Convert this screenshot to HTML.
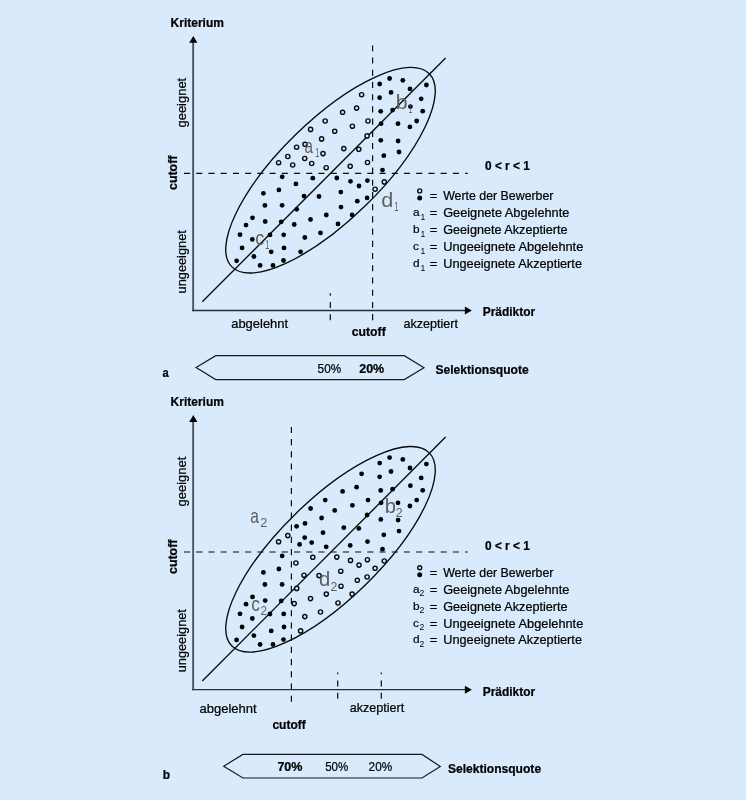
<!DOCTYPE html>
<html lang="de"><head><meta charset="utf-8"><title>Selektionsquote</title>
<style>
html,body{margin:0;padding:0;background:#d9eafd;}
body{width:746px;height:800px;overflow:hidden;}
svg{display:block;}
text{font-family:"Liberation Sans",sans-serif;fill:#000;stroke:#000;stroke-width:0.22px;}
text.r{font-size:12.4px;}
text.b{font-size:12px;font-weight:700;}
text.big{font-size:19.8px;fill:#5f5d5d;stroke:none;}
text.bsub{font-size:12.3px;fill:#5f5d5d;stroke:none;}
text.lg{font-size:11.8px;stroke-width:0.2px;}
text.lgs{font-size:8.6px;stroke:none;}
.ax{fill:none;stroke:#2c2e30;stroke-width:1.3;}
.ay{fill:none;stroke:#4d545c;stroke-width:1.9;}
.ah{fill:#000;stroke:none;}
.ln{fill:none;stroke:#0a0a0a;stroke-width:1.35;}
.ds{fill:none;stroke:#0a0a0a;stroke-width:1.2;stroke-dasharray:6.1 6.12;}
.ds2{fill:none;stroke:#0a0a0a;stroke-width:1.15;stroke-dasharray:6 4;}
.o{fill:#d9eafd;stroke:#0a0a0a;stroke-width:1.4;}
.f{fill:#000;}
.bx{fill:#d9eafd;stroke:#1a1a1a;stroke-width:1.2;stroke-linejoin:miter;}
</style></head>
<body>
<svg width="746" height="800" viewBox="0 0 746 800">
<rect width="746" height="800" fill="#d9eafd"/>
<g id="plot-a">
<path class="ay" d="M193.15 41.5V311.15"/>
<path class="ax" d="M192.25 310.5H466.5"/>
<path class="ah" d="M193.3 36.0l4.1 6.8h-8.2z"/>
<path class="ah" d="M471.9 310.6l-7 -4v8z"/>
<ellipse class="ln" cx="330.5" cy="170.2" rx="138.1" ry="49.8" transform="rotate(-44.3 330.5 170.2)"/>
<path class="ln" d="M202.3 301.8L445.6 58.0"/>
<path class="ds" d="M184.0 173.4H467.8"/>
<path class="ds" d="M372.6 320.2V45.5"/>
<path class="ds" d="M330.3 320.3V293.2"/>
<circle class="o" cx="361.6" cy="94.7" r="2.1"/>
<circle class="o" cx="356.6" cy="108.1" r="2.1"/>
<circle class="o" cx="342.6" cy="112.3" r="2.1"/>
<circle class="o" cx="325.2" cy="121.0" r="2.1"/>
<circle class="o" cx="368.0" cy="121.0" r="2.1"/>
<circle class="o" cx="352.4" cy="126.2" r="2.1"/>
<circle class="o" cx="310.6" cy="129.4" r="2.1"/>
<circle class="o" cx="334.7" cy="131.3" r="2.1"/>
<circle class="o" cx="367.1" cy="135.9" r="2.1"/>
<circle class="o" cx="321.6" cy="138.9" r="2.1"/>
<circle class="o" cx="305.0" cy="144.3" r="2.1"/>
<circle class="o" cx="296.6" cy="147.2" r="2.1"/>
<circle class="o" cx="343.8" cy="148.6" r="2.1"/>
<circle class="o" cx="358.8" cy="149.3" r="2.1"/>
<circle class="o" cx="323.0" cy="153.6" r="2.1"/>
<circle class="o" cx="287.8" cy="156.5" r="2.1"/>
<circle class="o" cx="304.7" cy="158.5" r="2.1"/>
<circle class="o" cx="278.6" cy="162.7" r="2.1"/>
<circle class="o" cx="292.7" cy="165.0" r="2.1"/>
<circle class="o" cx="311.7" cy="163.5" r="2.1"/>
<circle class="o" cx="367.5" cy="162.5" r="2.1"/>
<circle class="o" cx="350.2" cy="166.3" r="2.1"/>
<circle class="o" cx="326.2" cy="167.7" r="2.1"/>
<circle class="f" cx="379.7" cy="84.0" r="2.4"/>
<circle class="f" cx="389.6" cy="78.5" r="2.4"/>
<circle class="f" cx="402.8" cy="80.3" r="2.4"/>
<circle class="f" cx="426.4" cy="85.0" r="2.4"/>
<circle class="f" cx="410.0" cy="88.9" r="2.4"/>
<circle class="f" cx="391.0" cy="92.4" r="2.4"/>
<circle class="f" cx="379.6" cy="97.7" r="2.4"/>
<circle class="f" cx="421.2" cy="98.8" r="2.4"/>
<circle class="f" cx="410.4" cy="106.6" r="2.4"/>
<circle class="f" cx="380.7" cy="111.3" r="2.4"/>
<circle class="f" cx="392.6" cy="110.1" r="2.4"/>
<circle class="f" cx="422.7" cy="111.2" r="2.4"/>
<circle class="f" cx="416.7" cy="121.0" r="2.4"/>
<circle class="f" cx="381.1" cy="123.7" r="2.4"/>
<circle class="f" cx="398.0" cy="123.7" r="2.4"/>
<circle class="f" cx="409.9" cy="126.9" r="2.4"/>
<circle class="f" cx="380.8" cy="140.3" r="2.4"/>
<circle class="f" cx="398.1" cy="141.0" r="2.4"/>
<circle class="f" cx="399.0" cy="152.0" r="2.4"/>
<circle class="f" cx="383.8" cy="155.7" r="2.4"/>
<circle class="f" cx="382.5" cy="170.1" r="2.4"/>
<circle class="f" cx="282.2" cy="176.8" r="2.4"/>
<circle class="f" cx="312.8" cy="178.2" r="2.4"/>
<circle class="f" cx="336.8" cy="178.0" r="2.4"/>
<circle class="f" cx="350.5" cy="181.3" r="2.4"/>
<circle class="f" cx="367.4" cy="180.6" r="2.4"/>
<circle class="f" cx="295.9" cy="183.9" r="2.4"/>
<circle class="f" cx="359.0" cy="186.0" r="2.4"/>
<circle class="f" cx="278.9" cy="189.9" r="2.4"/>
<circle class="f" cx="340.8" cy="192.1" r="2.4"/>
<circle class="f" cx="263.4" cy="193.3" r="2.4"/>
<circle class="f" cx="304.0" cy="196.1" r="2.4"/>
<circle class="f" cx="319.0" cy="196.5" r="2.4"/>
<circle class="f" cx="367.1" cy="197.9" r="2.4"/>
<circle class="f" cx="357.3" cy="201.2" r="2.4"/>
<circle class="f" cx="264.9" cy="205.4" r="2.4"/>
<circle class="f" cx="282.1" cy="205.3" r="2.4"/>
<circle class="f" cx="341.0" cy="207.1" r="2.4"/>
<circle class="f" cx="296.7" cy="209.3" r="2.4"/>
<circle class="f" cx="326.3" cy="215.0" r="2.4"/>
<circle class="f" cx="352.1" cy="215.0" r="2.4"/>
<circle class="f" cx="252.5" cy="217.8" r="2.4"/>
<circle class="f" cx="310.5" cy="219.5" r="2.4"/>
<circle class="f" cx="265.2" cy="221.5" r="2.4"/>
<circle class="f" cx="281.2" cy="221.8" r="2.4"/>
<circle class="f" cx="338.0" cy="223.9" r="2.4"/>
<circle class="f" cx="246.0" cy="225.1" r="2.4"/>
<circle class="f" cx="294.2" cy="224.5" r="2.4"/>
<circle class="f" cx="320.5" cy="232.9" r="2.4"/>
<circle class="f" cx="240.0" cy="234.7" r="2.4"/>
<circle class="f" cx="270.0" cy="234.9" r="2.4"/>
<circle class="f" cx="283.7" cy="234.8" r="2.4"/>
<circle class="f" cx="304.8" cy="237.5" r="2.4"/>
<circle class="f" cx="252.3" cy="239.4" r="2.4"/>
<circle class="f" cx="242.1" cy="247.9" r="2.4"/>
<circle class="f" cx="284.0" cy="247.9" r="2.4"/>
<circle class="f" cx="271.2" cy="251.8" r="2.4"/>
<circle class="f" cx="300.6" cy="251.8" r="2.4"/>
<circle class="f" cx="253.9" cy="256.5" r="2.4"/>
<circle class="f" cx="236.6" cy="260.8" r="2.4"/>
<circle class="f" cx="283.5" cy="260.5" r="2.4"/>
<circle class="f" cx="260.1" cy="265.4" r="2.4"/>
<circle class="f" cx="273.0" cy="265.4" r="2.4"/>
<circle class="o" cx="384.3" cy="181.9" r="2.1"/>
<circle class="o" cx="375.1" cy="189.2" r="2.1"/>
<text class="big" x="304.55" y="152.6" textLength="8.44" lengthAdjust="spacingAndGlyphs">a</text><text class="bsub" x="315.35" y="156.6" textLength="4.00" lengthAdjust="spacingAndGlyphs">1</text>
<text class="big" x="395.72" y="108.8" textLength="11.87" lengthAdjust="spacingAndGlyphs">b</text><text class="bsub" x="408.82" y="112.7" textLength="3.48" lengthAdjust="spacingAndGlyphs">1</text>
<text class="big" x="255.23" y="244.8" textLength="9.05" lengthAdjust="spacingAndGlyphs">c</text><text class="bsub" x="265.33" y="248.6" textLength="4.13" lengthAdjust="spacingAndGlyphs">1</text>
<text class="big" x="381.29" y="206.9" textLength="12.00" lengthAdjust="spacingAndGlyphs">d</text><text class="bsub" x="394.20" y="210.7" textLength="4.39" lengthAdjust="spacingAndGlyphs">1</text>
<text class="b" x="170.6" y="26.9" textLength="53.3" lengthAdjust="spacingAndGlyphs">Kriterium</text>
<text class="r" transform="translate(185.5 127.5) rotate(-90)" x="0" y="0" textLength="49.7" lengthAdjust="spacingAndGlyphs">geeignet</text>
<text class="b" transform="translate(176.7 190.0) rotate(-90)" x="0" y="0" textLength="34.4" lengthAdjust="spacingAndGlyphs">cutoff</text>
<text class="r" transform="translate(185.5 293.4) rotate(-90)" x="0" y="0" textLength="63.2" lengthAdjust="spacingAndGlyphs">ungeeignet</text>
<text class="r" x="231.2" y="328.3" textLength="56.9" lengthAdjust="spacingAndGlyphs">abgelehnt</text>
<text class="b" x="351.8" y="336.0" textLength="33.9" lengthAdjust="spacingAndGlyphs">cutoff</text>
<text class="r" x="403.4" y="328.1" textLength="54.6" lengthAdjust="spacingAndGlyphs">akzeptiert</text>
<text class="b" x="482.7" y="316.2" textLength="52.5" lengthAdjust="spacingAndGlyphs">Prädiktor</text>
<text class="b" x="485.0" y="169.6" textLength="44.8" lengthAdjust="spacingAndGlyphs">0 &lt; r &lt; 1</text>
<circle class="o" cx="419.7" cy="190.9" r="2.0"/>
<circle class="f" cx="419.7" cy="198.0" r="2.5"/>
<text class="r" x="429.7" y="199.8" textLength="7.6" lengthAdjust="spacingAndGlyphs">=</text>
<text class="r" x="443.2" y="199.8" textLength="110.3" lengthAdjust="spacingAndGlyphs">Werte der Bewerber</text>
<text class="lg" x="413.0" y="216.0">a</text>
<text class="lgs" x="420.4" y="219.6">1</text>
<text class="r" x="429.7" y="217.0" textLength="7.6" lengthAdjust="spacingAndGlyphs">=</text>
<text class="r" x="443.2" y="217.0" textLength="126.1" lengthAdjust="spacingAndGlyphs">Geeignete Abgelehnte</text>
<text class="lg" x="413.0" y="233.1">b</text>
<text class="lgs" x="420.4" y="236.7">1</text>
<text class="r" x="429.7" y="234.1" textLength="7.6" lengthAdjust="spacingAndGlyphs">=</text>
<text class="r" x="443.2" y="234.1" textLength="124.4" lengthAdjust="spacingAndGlyphs">Geeignete Akzeptierte</text>
<text class="lg" x="413.0" y="250.2">c</text>
<text class="lgs" x="420.4" y="253.8">1</text>
<text class="r" x="429.7" y="251.2" textLength="7.6" lengthAdjust="spacingAndGlyphs">=</text>
<text class="r" x="443.2" y="251.2" textLength="140.1" lengthAdjust="spacingAndGlyphs">Ungeeignete Abgelehnte</text>
<text class="lg" x="413.0" y="267.4">d</text>
<text class="lgs" x="420.4" y="271.0">1</text>
<text class="r" x="429.7" y="268.4" textLength="7.6" lengthAdjust="spacingAndGlyphs">=</text>
<text class="r" x="443.2" y="268.4" textLength="138.8" lengthAdjust="spacingAndGlyphs">Ungeeignete Akzeptierte</text>
<path class="bx" d="M196.1 367.6L215.7 355.7H404.3L424 367.7L404.3 379.6H215.7Z"/>
<text class="r" x="317.6" y="372.8" textLength="23.6" lengthAdjust="spacingAndGlyphs">50%</text>
<text class="b" x="359.2" y="372.9" textLength="25.0" lengthAdjust="spacingAndGlyphs">20%</text>
<text class="b" x="435.5" y="373.5" textLength="93.2" lengthAdjust="spacingAndGlyphs">Selektionsquote</text>
<text class="b" x="162.6" y="376.5" textLength="6.2" lengthAdjust="spacingAndGlyphs">a</text>
</g>
<g id="plot-b">
<path class="ay" d="M193.15 420.6V690.25"/>
<path class="ax" d="M192.25 689.6H466.5"/>
<path class="ah" d="M193.3 415.1l4.1 6.8h-8.2z"/>
<path class="ah" d="M471.9 689.7l-7 -4v8z"/>
<ellipse class="ln" cx="330.5" cy="549.3" rx="138.1" ry="49.8" transform="rotate(-44.3 330.5 549.3)"/>
<path class="ln" d="M202.3 680.9L445.6 437.1"/>
<path class="ds" d="M184.0 552.0H467.8"/>
<path class="ds" d="M291.4 701.8V426.9"/>
<path class="ds" d="M337.7 698.8V672.5"/>
<path class="ds" d="M381.3 698.8V672.5"/>
<circle class="f" cx="361.6" cy="473.8" r="2.4"/>
<circle class="f" cx="356.6" cy="487.2" r="2.4"/>
<circle class="f" cx="342.6" cy="491.4" r="2.4"/>
<circle class="f" cx="325.2" cy="500.1" r="2.4"/>
<circle class="f" cx="368.0" cy="500.1" r="2.4"/>
<circle class="f" cx="352.4" cy="505.3" r="2.4"/>
<circle class="f" cx="310.6" cy="508.5" r="2.4"/>
<circle class="f" cx="334.7" cy="510.4" r="2.4"/>
<circle class="f" cx="367.1" cy="515.0" r="2.4"/>
<circle class="f" cx="321.6" cy="518.0" r="2.4"/>
<circle class="f" cx="305.0" cy="523.4" r="2.4"/>
<circle class="f" cx="296.6" cy="526.3" r="2.4"/>
<circle class="f" cx="343.8" cy="527.7" r="2.4"/>
<circle class="f" cx="358.8" cy="528.4" r="2.4"/>
<circle class="f" cx="323.0" cy="532.7" r="2.4"/>
<circle class="o" cx="287.8" cy="535.6" r="2.1"/>
<circle class="f" cx="304.7" cy="537.6" r="2.4"/>
<circle class="o" cx="278.6" cy="541.8" r="2.1"/>
<circle class="f" cx="299.6" cy="544.4" r="2.4"/>
<circle class="f" cx="311.7" cy="542.6" r="2.4"/>
<circle class="f" cx="367.5" cy="541.6" r="2.4"/>
<circle class="f" cx="350.2" cy="545.4" r="2.4"/>
<circle class="f" cx="326.2" cy="546.8" r="2.4"/>
<circle class="f" cx="379.7" cy="463.1" r="2.4"/>
<circle class="f" cx="389.6" cy="457.6" r="2.4"/>
<circle class="f" cx="402.8" cy="459.4" r="2.4"/>
<circle class="f" cx="426.4" cy="464.1" r="2.4"/>
<circle class="f" cx="410.0" cy="468.0" r="2.4"/>
<circle class="f" cx="391.0" cy="471.5" r="2.4"/>
<circle class="f" cx="379.6" cy="476.8" r="2.4"/>
<circle class="f" cx="421.2" cy="477.9" r="2.4"/>
<circle class="f" cx="410.4" cy="485.7" r="2.4"/>
<circle class="f" cx="380.7" cy="490.4" r="2.4"/>
<circle class="f" cx="392.6" cy="489.2" r="2.4"/>
<circle class="f" cx="422.7" cy="490.3" r="2.4"/>
<circle class="f" cx="416.7" cy="500.1" r="2.4"/>
<circle class="f" cx="381.1" cy="502.8" r="2.4"/>
<circle class="f" cx="398.0" cy="502.8" r="2.4"/>
<circle class="f" cx="409.9" cy="506.0" r="2.4"/>
<circle class="f" cx="380.8" cy="519.4" r="2.4"/>
<circle class="f" cx="398.1" cy="520.1" r="2.4"/>
<circle class="f" cx="399.0" cy="531.1" r="2.4"/>
<circle class="f" cx="383.8" cy="534.8" r="2.4"/>
<circle class="f" cx="382.5" cy="549.2" r="2.4"/>
<circle class="f" cx="282.2" cy="555.9" r="2.4"/>
<circle class="o" cx="312.8" cy="557.3" r="2.1"/>
<circle class="o" cx="336.8" cy="557.1" r="2.1"/>
<circle class="o" cx="350.5" cy="560.4" r="2.1"/>
<circle class="o" cx="367.4" cy="559.7" r="2.1"/>
<circle class="o" cx="295.9" cy="563.0" r="2.1"/>
<circle class="o" cx="359.0" cy="565.1" r="2.1"/>
<circle class="f" cx="278.9" cy="569.0" r="2.4"/>
<circle class="o" cx="340.8" cy="571.2" r="2.1"/>
<circle class="f" cx="263.4" cy="572.4" r="2.4"/>
<circle class="o" cx="304.0" cy="575.2" r="2.1"/>
<circle class="o" cx="319.0" cy="575.6" r="2.1"/>
<circle class="o" cx="367.1" cy="577.0" r="2.1"/>
<circle class="o" cx="357.3" cy="580.3" r="2.1"/>
<circle class="f" cx="264.9" cy="584.5" r="2.4"/>
<circle class="f" cx="282.1" cy="584.4" r="2.4"/>
<circle class="o" cx="341.0" cy="586.2" r="2.1"/>
<circle class="o" cx="296.7" cy="588.4" r="2.1"/>
<circle class="o" cx="326.3" cy="594.1" r="2.1"/>
<circle class="o" cx="352.1" cy="594.1" r="2.1"/>
<circle class="f" cx="252.5" cy="596.9" r="2.4"/>
<circle class="o" cx="310.5" cy="598.6" r="2.1"/>
<circle class="f" cx="265.2" cy="600.6" r="2.4"/>
<circle class="f" cx="281.2" cy="600.9" r="2.4"/>
<circle class="o" cx="338.0" cy="603.0" r="2.1"/>
<circle class="f" cx="246.0" cy="604.2" r="2.4"/>
<circle class="o" cx="294.2" cy="603.6" r="2.1"/>
<circle class="o" cx="320.5" cy="612.0" r="2.1"/>
<circle class="f" cx="240.0" cy="613.8" r="2.4"/>
<circle class="f" cx="270.0" cy="614.0" r="2.4"/>
<circle class="f" cx="283.7" cy="613.9" r="2.4"/>
<circle class="o" cx="304.8" cy="616.6" r="2.1"/>
<circle class="f" cx="252.3" cy="618.5" r="2.4"/>
<circle class="f" cx="242.1" cy="627.0" r="2.4"/>
<circle class="f" cx="284.0" cy="627.0" r="2.4"/>
<circle class="f" cx="271.2" cy="630.9" r="2.4"/>
<circle class="o" cx="300.6" cy="630.9" r="2.1"/>
<circle class="f" cx="253.9" cy="635.6" r="2.4"/>
<circle class="f" cx="236.6" cy="639.9" r="2.4"/>
<circle class="f" cx="283.5" cy="639.6" r="2.4"/>
<circle class="f" cx="260.1" cy="644.5" r="2.4"/>
<circle class="f" cx="273.0" cy="644.5" r="2.4"/>
<circle class="o" cx="384.3" cy="561.0" r="2.1"/>
<circle class="o" cx="375.1" cy="568.3" r="2.1"/>
<text class="big" x="250.34" y="522.9" textLength="8.66" lengthAdjust="spacingAndGlyphs">a</text><text class="bsub" x="260.36" y="526.8" textLength="7.08" lengthAdjust="spacingAndGlyphs">2</text>
<text class="big" x="384.69" y="512.9" textLength="11.25" lengthAdjust="spacingAndGlyphs">b</text><text class="bsub" x="395.77" y="516.8" textLength="6.96" lengthAdjust="spacingAndGlyphs">2</text>
<text class="big" x="251.36" y="610.9" textLength="8.70" lengthAdjust="spacingAndGlyphs">c</text><text class="bsub" x="260.60" y="614.9" textLength="6.59" lengthAdjust="spacingAndGlyphs">2</text>
<text class="big" x="319.05" y="585.8" textLength="11.25" lengthAdjust="spacingAndGlyphs">d</text><text class="bsub" x="330.58" y="590.9" textLength="6.84" lengthAdjust="spacingAndGlyphs">2</text>
<text class="b" x="170.6" y="406.0" textLength="53.3" lengthAdjust="spacingAndGlyphs">Kriterium</text>
<text class="r" transform="translate(185.5 506.4) rotate(-90)" x="0" y="0" textLength="49.7" lengthAdjust="spacingAndGlyphs">geeignet</text>
<text class="b" transform="translate(176.7 574.0) rotate(-90)" x="0" y="0" textLength="34.4" lengthAdjust="spacingAndGlyphs">cutoff</text>
<text class="r" transform="translate(185.5 672.3) rotate(-90)" x="0" y="0" textLength="63.2" lengthAdjust="spacingAndGlyphs">ungeeignet</text>
<text class="r" x="199.5" y="712.5" textLength="57.2" lengthAdjust="spacingAndGlyphs">abgelehnt</text>
<text class="b" x="272.4" y="728.7" textLength="33.3" lengthAdjust="spacingAndGlyphs">cutoff</text>
<text class="r" x="349.7" y="711.9" textLength="54.6" lengthAdjust="spacingAndGlyphs">akzeptiert</text>
<text class="b" x="482.7" y="696.0" textLength="52.5" lengthAdjust="spacingAndGlyphs">Prädiktor</text>
<text class="b" x="485.0" y="549.5" textLength="44.8" lengthAdjust="spacingAndGlyphs">0 &lt; r &lt; 1</text>
<circle class="o" cx="419.7" cy="567.7" r="2.0"/>
<circle class="f" cx="419.7" cy="574.8" r="2.5"/>
<text class="r" x="429.7" y="576.6" textLength="7.6" lengthAdjust="spacingAndGlyphs">=</text>
<text class="r" x="443.2" y="576.6" textLength="110.3" lengthAdjust="spacingAndGlyphs">Werte der Bewerber</text>
<text class="lg" x="413.0" y="592.6">a</text>
<text class="lgs" x="419.5" y="596.2">2</text>
<text class="r" x="429.7" y="593.6" textLength="7.6" lengthAdjust="spacingAndGlyphs">=</text>
<text class="r" x="443.2" y="593.6" textLength="126.1" lengthAdjust="spacingAndGlyphs">Geeignete Abgelehnte</text>
<text class="lg" x="413.0" y="609.5">b</text>
<text class="lgs" x="419.5" y="613.1">2</text>
<text class="r" x="429.7" y="610.5" textLength="7.6" lengthAdjust="spacingAndGlyphs">=</text>
<text class="r" x="443.2" y="610.5" textLength="124.4" lengthAdjust="spacingAndGlyphs">Geeignete Akzeptierte</text>
<text class="lg" x="413.0" y="626.5">c</text>
<text class="lgs" x="419.5" y="630.1">2</text>
<text class="r" x="429.7" y="627.5" textLength="7.6" lengthAdjust="spacingAndGlyphs">=</text>
<text class="r" x="443.2" y="627.5" textLength="140.1" lengthAdjust="spacingAndGlyphs">Ungeeignete Abgelehnte</text>
<text class="lg" x="413.0" y="643.4">d</text>
<text class="lgs" x="419.5" y="647.0">2</text>
<text class="r" x="429.7" y="644.4" textLength="7.6" lengthAdjust="spacingAndGlyphs">=</text>
<text class="r" x="443.2" y="644.4" textLength="138.8" lengthAdjust="spacingAndGlyphs">Ungeeignete Akzeptierte</text>
<path class="bx" d="M223.7 766.2L242.9 754.4H422L440.3 766.5L422 778H242.9Z"/>
<text class="b" x="277.4" y="771.2" textLength="25.1" lengthAdjust="spacingAndGlyphs">70%</text>
<text class="r" x="325.2" y="771.2" textLength="23.0" lengthAdjust="spacingAndGlyphs">50%</text>
<text class="r" x="368.6" y="771.2" textLength="23.6" lengthAdjust="spacingAndGlyphs">20%</text>
<text class="b" x="447.9" y="773.2" textLength="93.2" lengthAdjust="spacingAndGlyphs">Selektionsquote</text>
<text class="b" x="162.7" y="778.5" textLength="7.3" lengthAdjust="spacingAndGlyphs">b</text>
</g>
</svg>
</body></html>
